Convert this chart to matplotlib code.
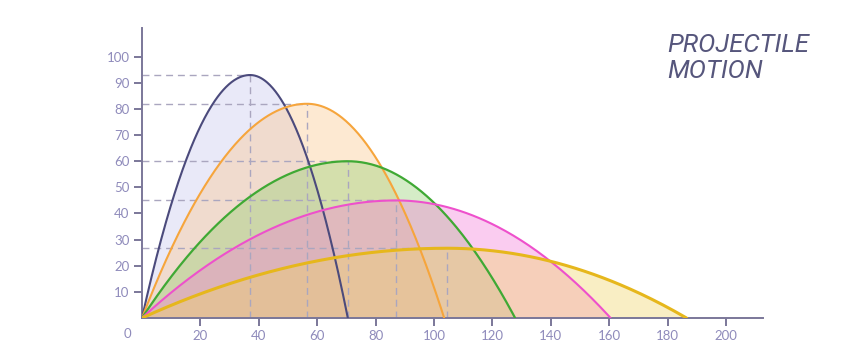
import numpy as np
import matplotlib.pyplot as plt

# trajectories: apex position, apex height, landing distance
names = ['a', 'b', 'c', 'd', 'e']
apex_x = [37, 56.5, 70.5, 87, 104.5]
apex_y = [93, 82, 60, 45, 26.7]
range_x = [70.5, 103.5, 127.8, 160.5, 186.5]
line_colors = ['#4b4a7c', '#f6a53c', '#3fa934', '#ee50cc', '#e6b71c']
fill_colors = ['#c9c9ef', '#fbc890', '#92cf6e', '#f47bd9', '#f1d464']
fill_alpha = [0.4, 0.4, 0.38, 0.38, 0.38]
line_widths = [1.5, 1.5, 1.6, 1.5, 2.2]

y_ticks = [10, 20, 30, 40, 50, 60, 70, 80, 90, 100]
x_ticks = [20, 40, 60, 80, 100, 120, 140, 160, 180, 200]

axis_col = '#7b7799'
label_col = '#8f8bbb'
dash_col = '#aaa6bf'

plt.rcParams['font.family'] = ['Lato', 'DejaVu Sans']

fig = plt.figure(figsize=(8.57, 3.6), dpi=100)
ax = fig.add_axes([142 / 857, 42 / 360, 621 / 857, 290 / 360])
ax.set_xlim(0, 212.7)
ax.set_ylim(0, 111)


def trajectory(px, h, r, n=300):
    # stylised arc: rising half and falling half meet at the apex
    x = np.linspace(0, r, n)
    y = np.where(x <= px,
                 h * (1 - ((x - px) / px) ** 2),
                 h * (1 - ((x - px) / (r - px)) ** 2))
    return x, y


# fills first, back to front
for i in range(len(names)):
    x, y = trajectory(apex_x[i], apex_y[i], range_x[i])
    ax.fill_between(x, 0, y, color=fill_colors[i], alpha=fill_alpha[i], lw=0, zorder=1)

# guide lines to the apex
for i in range(len(names)):
    ax.plot([0, apex_x[i]], [apex_y[i], apex_y[i]], color=dash_col, lw=1,
            dashes=(5, 3.5), zorder=2)
    ax.plot([apex_x[i], apex_x[i]], [0, apex_y[i]], color=dash_col, lw=1,
            dashes=(5, 3.5), zorder=2)

for i in range(len(names)):
    x, y = trajectory(apex_x[i], apex_y[i], range_x[i])
    ax.plot(x, y, color=line_colors[i], lw=line_widths[i], zorder=3,
            solid_capstyle='round')

for s in ['top', 'right']:
    ax.spines[s].set_visible(False)
for s in ['left', 'bottom']:
    ax.spines[s].set_color(axis_col)
    ax.spines[s].set_linewidth(1.4)

ax.set_xticks(x_ticks)
ax.set_yticks(y_ticks)
ax.tick_params(axis='both', colors=axis_col, labelcolor=label_col, length=6,
               width=1.4, labelsize=9.5, pad=3)
ax.text(-5, -6.3, '0', color=label_col, fontsize=9.5, ha='center', va='center',
        clip_on=False)

fig.text(667 / 857, 1 - 58 / 360, 'PROJECTILE\nMOTION', color='#56567c',
         fontsize=18.5, style='italic', weight='normal',
         family=['Roboto', 'DejaVu Sans'],
         ha='left', va='center', linespacing=1.15)

fig.savefig('out.png', dpi=100)
